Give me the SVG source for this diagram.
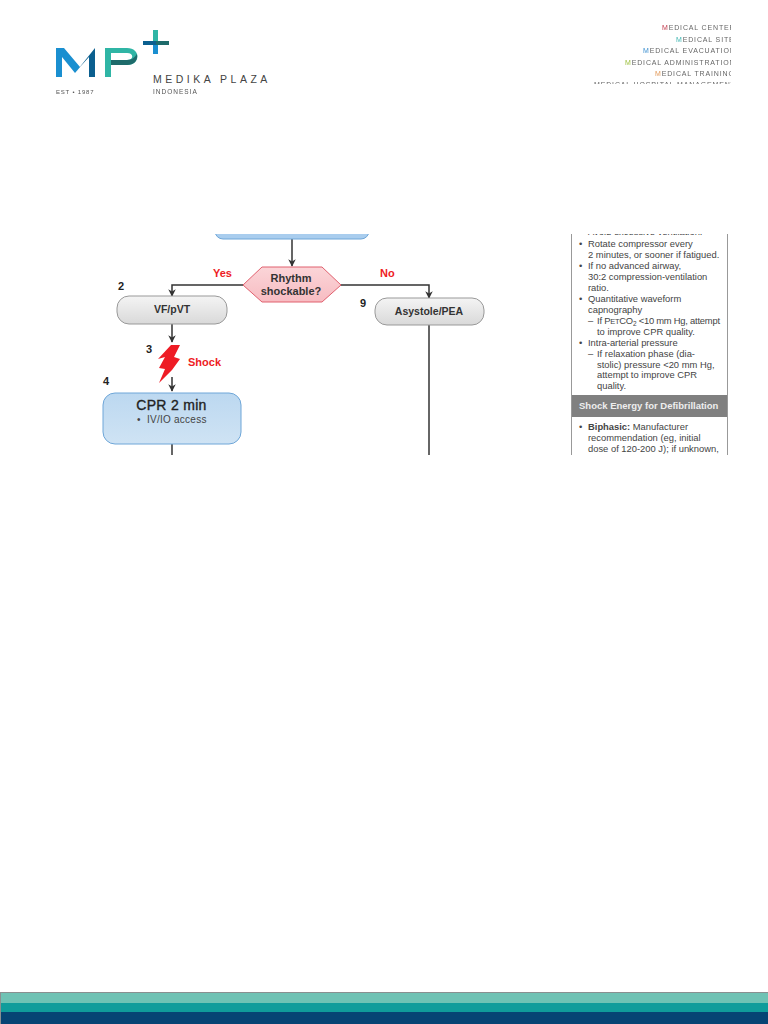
<svg xmlns="http://www.w3.org/2000/svg" width="768" height="1024" viewBox="0 0 768 1024">
<style>
text{font-family:"Liberation Sans",Arial,sans-serif}
.edge{fill:none;stroke:#333;stroke-width:1.5}
.gray{fill:url(#grayFill);stroke:#999;stroke-width:1}
.blue{fill:url(#blueFill);stroke:#6ea6d8;stroke-width:1}
.nb{font-size:11px;font-weight:700;fill:#222}
.red{font-size:11px;font-weight:700;fill:#ee1c25}
.lab{font-size:11px;font-weight:700;fill:#333;text-anchor:middle}
.p{font-size:9.4px;fill:#444}
.h{font-size:7px;letter-spacing:0.85px;fill:#666;text-anchor:start}
</style>
<defs>
<linearGradient id="grayFill" x1="0" y1="0" x2="0" y2="1"><stop offset="0" stop-color="#f4f4f4"/><stop offset="1" stop-color="#d9d9d9"/></linearGradient>
<linearGradient id="blueFill" x1="0" y1="0" x2="0" y2="1"><stop offset="0" stop-color="#bcd8f0"/><stop offset="1" stop-color="#cfe3f4"/></linearGradient>
<linearGradient id="pinkFill" x1="0" y1="0" x2="0" y2="1"><stop offset="0" stop-color="#fbd5d8"/><stop offset="1" stop-color="#f7bcc2"/></linearGradient>
<marker id="arr" viewBox="0 0 10 10" refX="9" refY="5" markerWidth="9" markerHeight="7.500" markerUnits="userSpaceOnUse" orient="auto"><path d="M0,0L10,5L0,10L3,5Z" fill="#333"/></marker>
<clipPath id="flow"><rect x="50" y="234" width="480" height="221"/></clipPath>
<clipPath id="panel"><rect x="565" y="234" width="170" height="221"/></clipPath>
<clipPath id="head"><rect x="580" y="15" width="151" height="69"/></clipPath>
<clipPath id="logoClip"><rect x="40" y="20" width="240" height="75"/></clipPath>
<filter id="soft" x="-5%" y="-20%" width="110%" height="140%"><feGaussianBlur stdDeviation="0.35"/></filter>
</defs>

<rect width="768" height="1024" fill="#fff"/>

<g id="logo" clip-path="url(#logoClip)">
<path d="M56 77V48H64L80 67L75 73L62 57V77Z" fill="#1a8fd0"/>
<path d="M75 73L95 48V77H89V57L80 67Z" fill="#0b5f8f"/>
<path fill-rule="evenodd" d="M105 77V48H127C141 48 141 65 127 65H111V77ZM111 53V60H127C134 60 134 53 127 53Z" fill="#2fb5a5"/>
<path d="M111 60H127C132 60 135 57 137 54C138 61 134 65 127 65H111Z" fill="#1e6b6b"/>
<path d="M153 30H158V42H153Z" fill="#2fb5a5"/>
<path d="M156 41H169V45H156Z" fill="#1e6b6b"/>
<path d="M143 41H156V45H143Z" fill="#0b5f8f"/>
<path d="M153 45H158V54H153Z" fill="#1a8fd0"/>
<text x="153" y="83" font-size="10.500" letter-spacing="3.500" fill="#444">MEDIKA PLAZA</text>
<text x="153" y="94" font-size="6.500" letter-spacing="1" fill="#555" filter="url(#soft)">INDONESIA</text>
<text x="56" y="94" font-size="6" letter-spacing="0.8" fill="#555" filter="url(#soft)">EST • 1987</text>
</g>

<g id="services" clip-path="url(#head)" filter="url(#soft)">
<text class="h" x="662" y="30"><tspan fill="#c0394b">M</tspan>EDICAL CENTER</text>
<text class="h" x="676" y="41.500"><tspan fill="#3fb6b2">M</tspan>EDICAL SITE</text>
<text class="h" x="643" y="53"><tspan fill="#3c8fd0">M</tspan>EDICAL EVACUATION</text>
<text class="h" x="625" y="64.500"><tspan fill="#9bbf3b">M</tspan>EDICAL ADMINISTRATION</text>
<text class="h" x="655" y="76"><tspan fill="#e39a5a">M</tspan>EDICAL TRAINING</text>
<text class="h" x="594" y="87">MEDICAL HOSPITAL MANAGEMENT</text>
</g>

<g id="flowchart" clip-path="url(#flow)">
<g id="connectors">
<path class="edge" d="M292 239V266" marker-end="url(#arr)"/>
<path class="edge" d="M243 285H172V296" marker-end="url(#arr)"/>
<path class="edge" d="M340 285H429V298" marker-end="url(#arr)"/>
<path class="edge" d="M172 324V342" marker-end="url(#arr)"/>
<path class="edge" d="M172 377V391" marker-end="url(#arr)"/>
<path class="edge" d="M172 444V455"/>
<path class="edge" d="M429 325V455"/>
</g>
<g id="node-start"><rect x="215" y="200" width="154" height="39" rx="8" fill="#a9cdee" stroke="#6ea6d8"/></g>
<g id="node-rhythm">
<polygon points="243,285 262,267 322,267 341,285 322,302 262,302" fill="url(#pinkFill)" stroke="#e0606e"/>
<text class="lab" x="291" y="282">Rhythm</text>
<text class="lab" x="291" y="295">shockable?</text>
</g>
<text class="red" x="213" y="277">Yes</text>
<text class="red" x="380" y="277">No</text>
<g id="node-vf">
<text class="nb" x="118" y="290">2</text>
<rect class="gray" x="117" y="296" width="110" height="28" rx="12"/>
<text class="lab" x="172" y="313" style="font-size:10.5px">VF/pVT</text>
</g>
<g id="node-shock">
<text class="nb" x="146" y="353">3</text>
<polygon points="171,345 180,345 174,357 180,359 172,370 159,383 165,369 159,368 165,357 158,359" fill="#ee1c25"/>
<text class="red" x="188" y="366">Shock</text>
</g>
<g id="node-cpr">
<text class="nb" x="103" y="385">4</text>
<rect class="blue" x="103" y="393" width="138" height="51" rx="12"/>
<text x="171.500" y="410" font-size="14" letter-spacing="0.3" fill="#222" stroke="#222" stroke-width="0.35" text-anchor="middle">CPR 2 min</text>
<text x="137" y="423" font-size="10" fill="#444">•</text>
<text x="147" y="423" font-size="10" letter-spacing="0.25" fill="#444">IV/IO access</text>
</g>
<g id="node-asystole">
<text class="nb" x="360" y="307">9</text>
<rect class="gray" x="375" y="298" width="109" height="27" rx="12"/>
<text class="lab" x="429" y="315" style="font-size:10.5px">Asystole/PEA</text>
</g>
</g>

<g id="side-panel" clip-path="url(#panel)">
<rect x="571.500" y="225" width="156" height="240" fill="#fff" stroke="#999"/>
<text class="p" x="588" y="235">Avoid excessive ventilation.</text>
<text class="p" x="579" y="246.500">•</text><text class="p" x="588" y="246.500">Rotate compressor every</text>
<text class="p" x="588" y="257.500">2 minutes, or sooner if fatigued.</text>
<text class="p" x="579" y="268.500">•</text><text class="p" x="588" y="268.500">If no advanced airway,</text>
<text class="p" x="588" y="279.500">30:2 compression-ventilation</text>
<text class="p" x="588" y="290.500">ratio.</text>
<text class="p" x="579" y="301.500">•</text><text class="p" x="588" y="301.500">Quantitative waveform</text>
<text class="p" x="588" y="312.500">capnography</text>
<text class="p" x="588" y="323.500">–</text><text class="p" x="597" y="323.500" textLength="123" lengthAdjust="spacing">If P<tspan font-size="7.500">ET</tspan>CO<tspan font-size="6.500" dy="2">2</tspan><tspan dy="-2"> &lt;10 mm Hg, attempt</tspan></text>
<text class="p" x="597" y="334.500">to improve CPR quality.</text>
<text class="p" x="579" y="345.500">•</text><text class="p" x="588" y="345.500">Intra-arterial pressure</text>
<text class="p" x="588" y="356.500">–</text><text class="p" x="597" y="356.500">If relaxation phase (dia-</text>
<text class="p" x="597" y="367.500">stolic) pressure &lt;20 mm Hg,</text>
<text class="p" x="597" y="378">attempt to improve CPR</text>
<text class="p" x="597" y="388.500">quality.</text>
<rect x="572" y="395" width="155" height="22" fill="#808080"/>
<text x="579" y="409" font-size="9.500" font-weight="700" fill="#eee">Shock Energy for Defibrillation</text>
<text class="p" x="579" y="430">•</text><text class="p" x="588" y="430"><tspan font-weight="700">Biphasic:</tspan> Manufacturer</text>
<text class="p" x="588" y="441">recommendation (eg, initial</text>
<text class="p" x="588" y="452">dose of 120-200 J); if unknown,</text>
</g>

<g id="footer">
<rect x="0" y="992" width="768" height="32" fill="#8a8f90"/>
<rect x="1" y="993" width="767" height="10" fill="#6fc2b4"/>
<rect x="1" y="1003" width="767" height="9" fill="#109c9b"/>
<rect x="1" y="1012" width="767" height="12" fill="#064474"/>
</g>
</svg>
